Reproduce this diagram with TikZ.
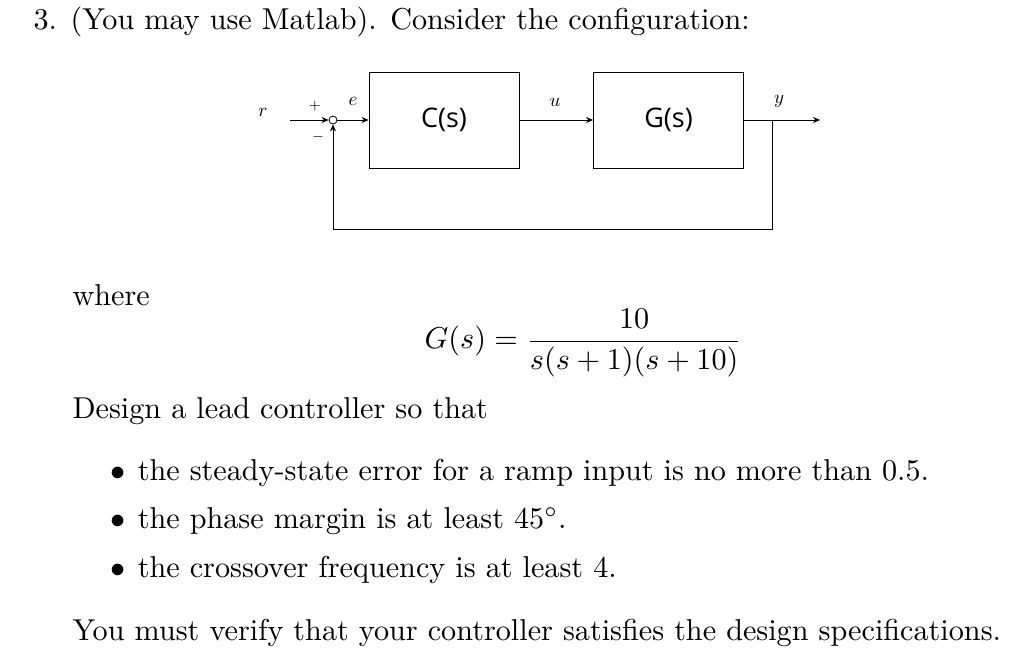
\documentclass[tikz,border=0pt]{standalone}
\usepackage{fontspec}
\newfontfamily\blockfont{Open Sans}
\usetikzlibrary{arrows.meta}
\begin{document}
\begin{tikzpicture}[x=1pt,y=-1pt,
  txt/.style={anchor=base west,inner sep=0pt,scale=3.02,font=\normalsize},
  blk/.style={draw,line width=0.8pt,minimum width=150pt,minimum height=96pt,inner sep=0pt,font=\blockfont\fontsize{27}{30}\selectfont},
  sig/.style={line width=0.8pt,-{Stealth[length=7pt,width=6pt]}},
  ln/.style={line width=0.8pt},
  lab/.style={inner sep=0pt,scale=1.9,font=\normalsize}]
\useasboundingbox (0,0) rectangle (1024,663);
\node[txt] (t1) at (33,30) {3. (You may use Matlab). Consider the configuration:};
\node[blk] (C) at (444,120) {C(s)};
\node[blk] (G) at (668.5,120) {G(s)};
\node[draw,circle,minimum size=8pt,inner sep=0pt,line width=0.8pt] (S) at (333,120) {};
\coordinate (in) at (290,120);
\coordinate (br) at (772,120);
\coordinate (out) at (820,120);
\coordinate (b1) at (772,229);
\coordinate (b2) at (333,229);
\draw[sig] (in) -- (S.west);
\draw[sig] (S.east) -- (C.west);
\draw[sig] (C.east) -- (G.west);
\draw[sig] (G.east) -- (out);
\draw[ln] (br) -- (b1) -- (b2);
\draw[sig] (b2) -- (S.south);
\node[lab] (r) at (263,112) {$r$};
\node[lab] (pl) at (315,106) {$\scriptstyle +$};
\node[lab] (mi) at (318,137) {$\scriptstyle -$};
\node[lab] (e) at (353,101) {$e$};
\node[lab] (u) at (555,102) {$u$};
\node[lab] (y) at (779,101) {$y$};
\node[txt] (w) at (72,305) {where};
\node[inner sep=0pt,scale=3.02,font=\normalsize,anchor=west] (eq) at (424,343) {$\displaystyle G(s)=\frac{10}{s(s+1)(s+10)}$};
\node[txt] (d) at (72,418) {Design a lead controller so that};
\node[txt] (b1t) at (110,480) {$\bullet$\hspace{4pt}the steady-state error for a ramp input is no more than 0.5.};
\node[txt] (b2t) at (110,528) {$\bullet$\hspace{4pt}the phase margin is at least $45^\circ$.};
\node[txt] (b3t) at (110,577) {$\bullet$\hspace{4pt}the crossover frequency is at least 4.};
\node[txt] (last) at (72,640) {You must verify that your controller satisfies the design specifications.};
\end{tikzpicture}
\end{document}
